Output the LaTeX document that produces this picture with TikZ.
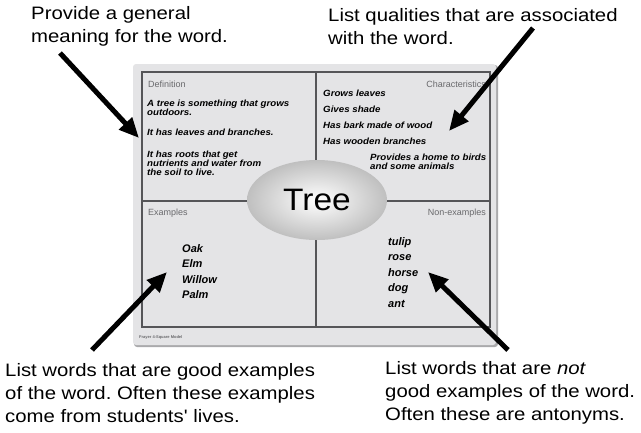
\documentclass[tikz,border=0pt]{standalone}
\usepackage{fontspec}
\setmainfont{Liberation Sans}
\newfontfamily\notefont[FakeStretch=1.13]{Liberation Sans}
\newfontfamily\handfont[FakeStretch=1.08]{Liberation Sans}
\usetikzlibrary{shapes.geometric,arrows.meta}
\definecolor{card}{RGB}{228,228,230}
\definecolor{cardedge}{RGB}{170,170,172}
\definecolor{frame}{RGB}{85,85,88}
\definecolor{label}{RGB}{105,105,108}
\tikzstyle{note}=[anchor=west, align=left, inner sep=0pt, font=\notefont\fontsize{18}{23}\selectfont]
\tikzstyle{head}=[inner sep=0pt, text=label, font=\fontsize{9}{11}\selectfont]
\tikzstyle{hand}=[anchor=west, align=left, inner sep=0pt, font=\handfont\bfseries\itshape\fontsize{9}{9}\selectfont]
\tikzstyle{word}=[anchor=west, align=left, inner sep=0pt, font=\bfseries\itshape\fontsize{11}{15.5}\selectfont]
\tikzstyle{topic}=[shape=ellipse, minimum width=140pt, minimum height=80pt, inner color=white, outer color=gray!50, font=\handfont\fontsize{31}{31}\selectfont]
\tikzstyle{pointer}=[-{Triangle[length=20pt,width=17pt]}, line width=5pt, draw=black]
\frenchspacing

\begin{document}
\begin{tikzpicture}[x=1pt, y=-1pt]
	\useasboundingbox (0, 0) rectangle (641, 432);
	% card and frame
	\fill [cardedge, rounded corners=3pt] (134, 65) rectangle (498, 347);
	\fill [card, rounded corners=3pt] (133, 64) rectangle (496, 345);
	\draw [frame, line width=2pt] (142, 72) rectangle (490, 327);
	\draw [frame, line width=2pt] (316, 72) -- (316, 327);
	\draw [frame, line width=2pt] (142, 201) -- (490, 201);
	\node [style=topic] (0) at (317, 200) {Tree};

	% quadrant headings
	\node [style=head, anchor=west] (1) at (148, 84) {Definition};
	\node [style=head, anchor=east] (2) at (486, 84) {Characteristics};
	\node [style=head, anchor=west] (3) at (148, 213) {Examples};
	\node [style=head, anchor=east] (4) at (486, 213) {Non-examples};
	\node [inner sep=0pt, anchor=west, text=label, font=\bfseries\fontsize{4}{4}\selectfont] (5) at (139, 337) {Frayer 4-Square Model};

	% definition
	\node [style=hand] (6) at (147, 107.5) {A tree is something that grows\\outdoors.};
	\node [style=hand] (7) at (147, 132) {It has leaves and branches.};
	\node [style=hand] (8) at (147, 163) {It has roots that get\\nutrients and water from\\the soil to live.};

	% characteristics
	\node [style=hand, font=\handfont\bfseries\itshape\fontsize{9}{16}\selectfont] (9) at (323, 117) {Grows leaves\\Gives shade\\Has bark made of wood\\Has wooden branches};
	\node [style=hand] (10) at (370, 162) {Provides a home to birds\\and some animals};

	% examples
	\node [style=word] (11) at (182, 271.5) {Oak\\Elm\\Willow\\Palm};
	\node [style=word] (12) at (388, 272.5) {tulip\\rose\\horse\\dog\\ant};

	% notes
	\node [style=note] (13) at (31, 26) {Provide a general\\meaning for the word.};
	\node [style=note] (14) at (328, 27) {List qualities that are associated\\with the word.};
	\node [style=note] (15) at (5, 393) {List words that are good examples\\of the word. Often these examples\\come from students\char"0027{} lives.};
	\node [style=note] (16) at (385, 393) {List words that are \textit{not}\\good examples of the word.\\Often these are antonyms.};

	% pointers
	\coordinate (a) at (60, 53);
	\coordinate (b) at (139, 138);
	\coordinate (c) at (533, 28);
	\coordinate (d) at (449, 131);
	\coordinate (e) at (92, 350);
	\coordinate (f) at (167, 272);
	\coordinate (g) at (508, 350);
	\coordinate (h) at (428, 272);
	\draw [style=pointer] (a) to (b);
	\draw [style=pointer] (c) to (d);
	\draw [style=pointer] (e) to (f);
	\draw [style=pointer] (g) to (h);
\end{tikzpicture}
\end{document}
